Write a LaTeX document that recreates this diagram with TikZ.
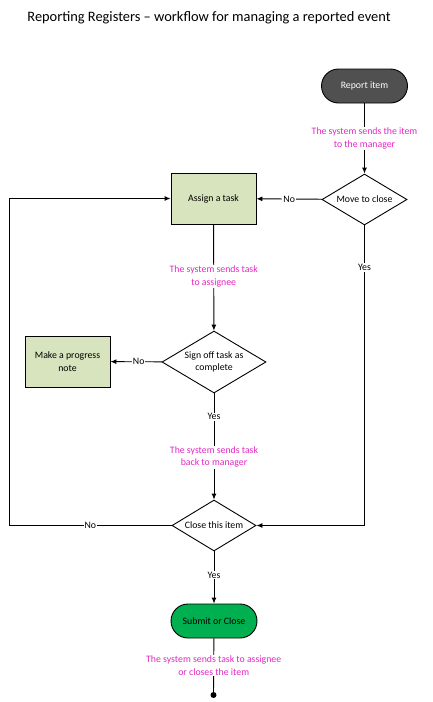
\documentclass[tikz,border=0pt]{standalone}
\usepackage{fontspec}
\setmainfont{Carlito}
\usetikzlibrary{shapes.geometric,arrows.meta}
\definecolor{magentatxt}{RGB}{228,40,196}
\definecolor{greenbox}{RGB}{215,228,189}
\definecolor{darkbox}{RGB}{80,80,80}
\definecolor{submitgreen}{RGB}{0,176,80}
\begin{document}
\begin{tikzpicture}[x=1pt,y=-1pt,
  font=\fontsize{9.8}{12.5}\selectfont,
  line width=0.9pt,
  terminal/.style={draw, rounded corners=17pt, minimum width=86pt, minimum height=34pt, inner sep=1pt},
  taskbox/.style={draw, fill=greenbox, minimum width=85pt, minimum height=51pt, align=center},
  decision/.style={draw, fill=white, diamond, aspect=1.67, inner sep=0pt, align=center},
  sysnote/.style={fill=white, text=magentatxt, align=center, inner sep=1pt},
  lbl/.style={fill=white, inner sep=1pt},
  arr/.style={-{Latex[length=6pt,width=5pt]}}
]
\useasboundingbox (0,0) rectangle (433,702);
\node (title) at (209,18) {\fontsize{14.4}{17}\selectfont Reporting Registers -- workflow for managing a reported event};

\node[terminal, fill=darkbox, text=white] (report) at (364.5,86) {Report item};
\node[decision, minimum width=85pt, minimum height=51pt] (move) at (364.5,199.5) {Move to close};
\node[taskbox] (assign) at (213.5,198.5) {Assign a task};
\node[decision, minimum width=104pt, minimum height=62pt] (sign) at (214,362) {Sign off task as\\complete};
\node[taskbox] (note) at (67.5,361.5) {Make a progress\\note};
\node[decision, minimum width=84pt, minimum height=51pt] (close) at (214,525.5) {Close this item};
\node[terminal, fill=submitgreen] (submit) at (214,621) {Submit or Close};
\coordinate (endpt) at (213.5,695);

% report -> move
\draw[arr] (report) -- node[sysnote] (n1) {The system sends the item\\to the manager} (move);
% move -> assign (No)
\draw[arr] (move) -- node[lbl, pos=0.5] (no1) {No} (assign);
% move -> close (Yes)
\coordinate (c1) at (364.5,525.5);
\draw[arr] (move.south) -- node[lbl, pos=0.14] (yes1) {Yes} (c1) -- (close.east);
% assign -> sign
\draw[arr] (assign) -- node[sysnote, pos=0.49] (n2) {The system sends task\\to assignee} (sign);
% sign -> note (No)
\draw[arr] (sign) -- node[lbl, pos=0.45] (no2) {No} (note);
% sign -> close (Yes)
\draw[arr] (sign) -- node[lbl, pos=0.22] (yes2) {Yes} node[sysnote, pos=0.6] (n3) {The system sends task\\back to manager} (close);
% close -> assign (No)
\coordinate (c2) at (9,525.5);
\coordinate (c3) at (9,198.5);
\draw[arr] (close.west) -- node[lbl, pos=0.5] (no3) {No} (c2) -- (c3) -- (assign.west);
% close -> submit (Yes)
\draw[arr] (close) -- node[lbl, pos=0.45] (yes3) {Yes} (submit);
% submit -> end
\draw (submit) -- node[sysnote, pos=0.48] (n4) {The system sends task to assignee\\or closes the item} (endpt);
\fill (endpt) circle (3pt);
\end{tikzpicture}
\end{document}
